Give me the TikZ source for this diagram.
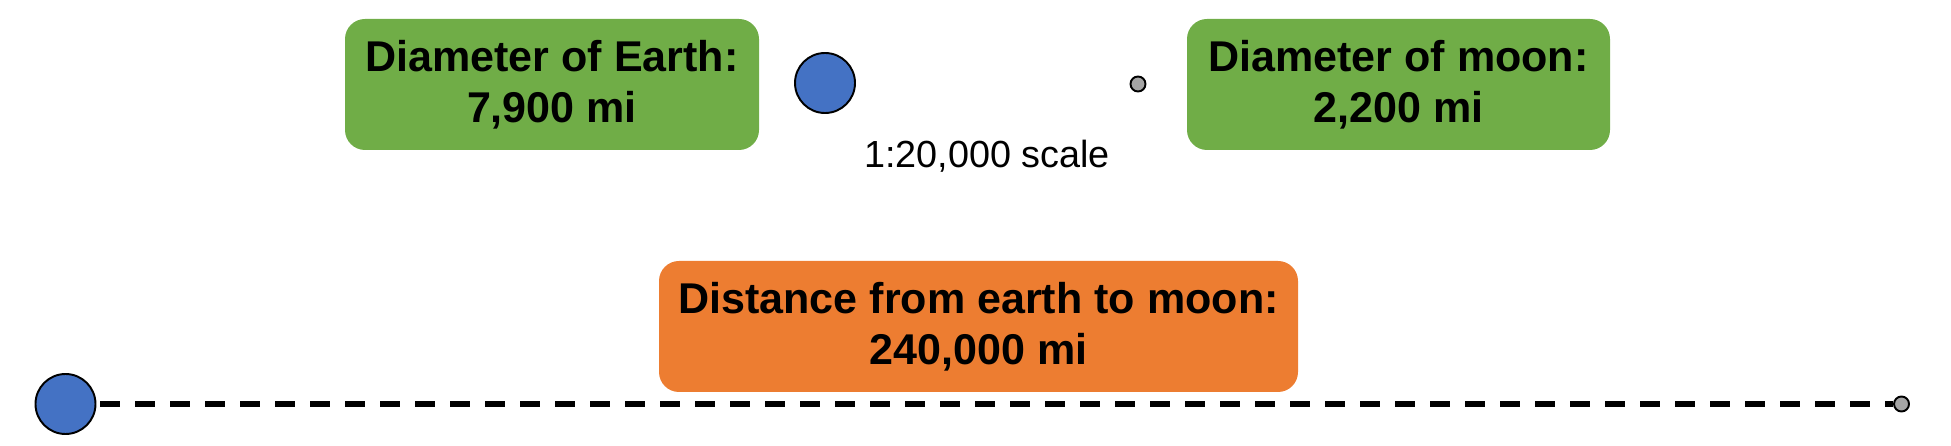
\documentclass[tikz,border=0pt]{standalone}
\usepackage{fontspec}
\setmainfont{Liberation Sans}
\usetikzlibrary{arrows}

\definecolor{boxgreen}{HTML}{70AD47}
\definecolor{boxorange}{HTML}{ED7D31}
\definecolor{earthblue}{HTML}{4472C4}
\definecolor{moongrey}{HTML}{A5A5A5}

\begin{document}
\begin{tikzpicture}[line cap=round,line join=round,x=1.0cm,y=1.0cm,
    infobox/.style={rounded corners=0.4cm,minimum height=2.62cm,inner sep=0pt,
      align=center,font=\fontsize{24.5}{29}\selectfont\bfseries},
    planet/.style={circle,draw=black,line width=1.1pt,inner sep=0pt}]
      \useasboundingbox (0,0) rectangle (39.02,8.92);

      % scale model at the top
      \node[infobox,fill=boxgreen,minimum width=8.28cm] (earthbox) at (11.04,7.23) {Diameter of Earth:\\7,900 mi};
      \node[planet,fill=earthblue,minimum size=1.2cm] (earth) at (16.5,7.26) {};
      \node[planet,fill=moongrey,minimum size=0.3cm] (moon) at (22.76,7.24) {};
      \node[infobox,fill=boxgreen,minimum width=8.46cm] (moonbox) at (27.97,7.23) {Diameter of moon:\\2,200 mi};
      \draw (19.74,5.8) node[anchor=center,font=\fontsize{21.5}{25}\selectfont] (scale) {1:20,000 scale};

      % distance at the bottom
      \node[infobox,fill=boxorange,minimum width=12.78cm] (distbox) at (19.57,2.39) {Distance from earth to moon:\\240,000 mi};
      \node[planet,fill=earthblue,minimum size=1.2cm] (farearth) at (1.31,0.84) {};
      \node[planet,fill=moongrey,minimum size=0.3cm] (farmoon) at (38.03,0.84) {};
      \draw[line cap=butt,line width=3.2pt,dash pattern=on 0.4cm off 0.3cm,shorten <=0.08cm]
                (farearth.east) -- (farmoon.west);
    \end{tikzpicture}
\end{document}
